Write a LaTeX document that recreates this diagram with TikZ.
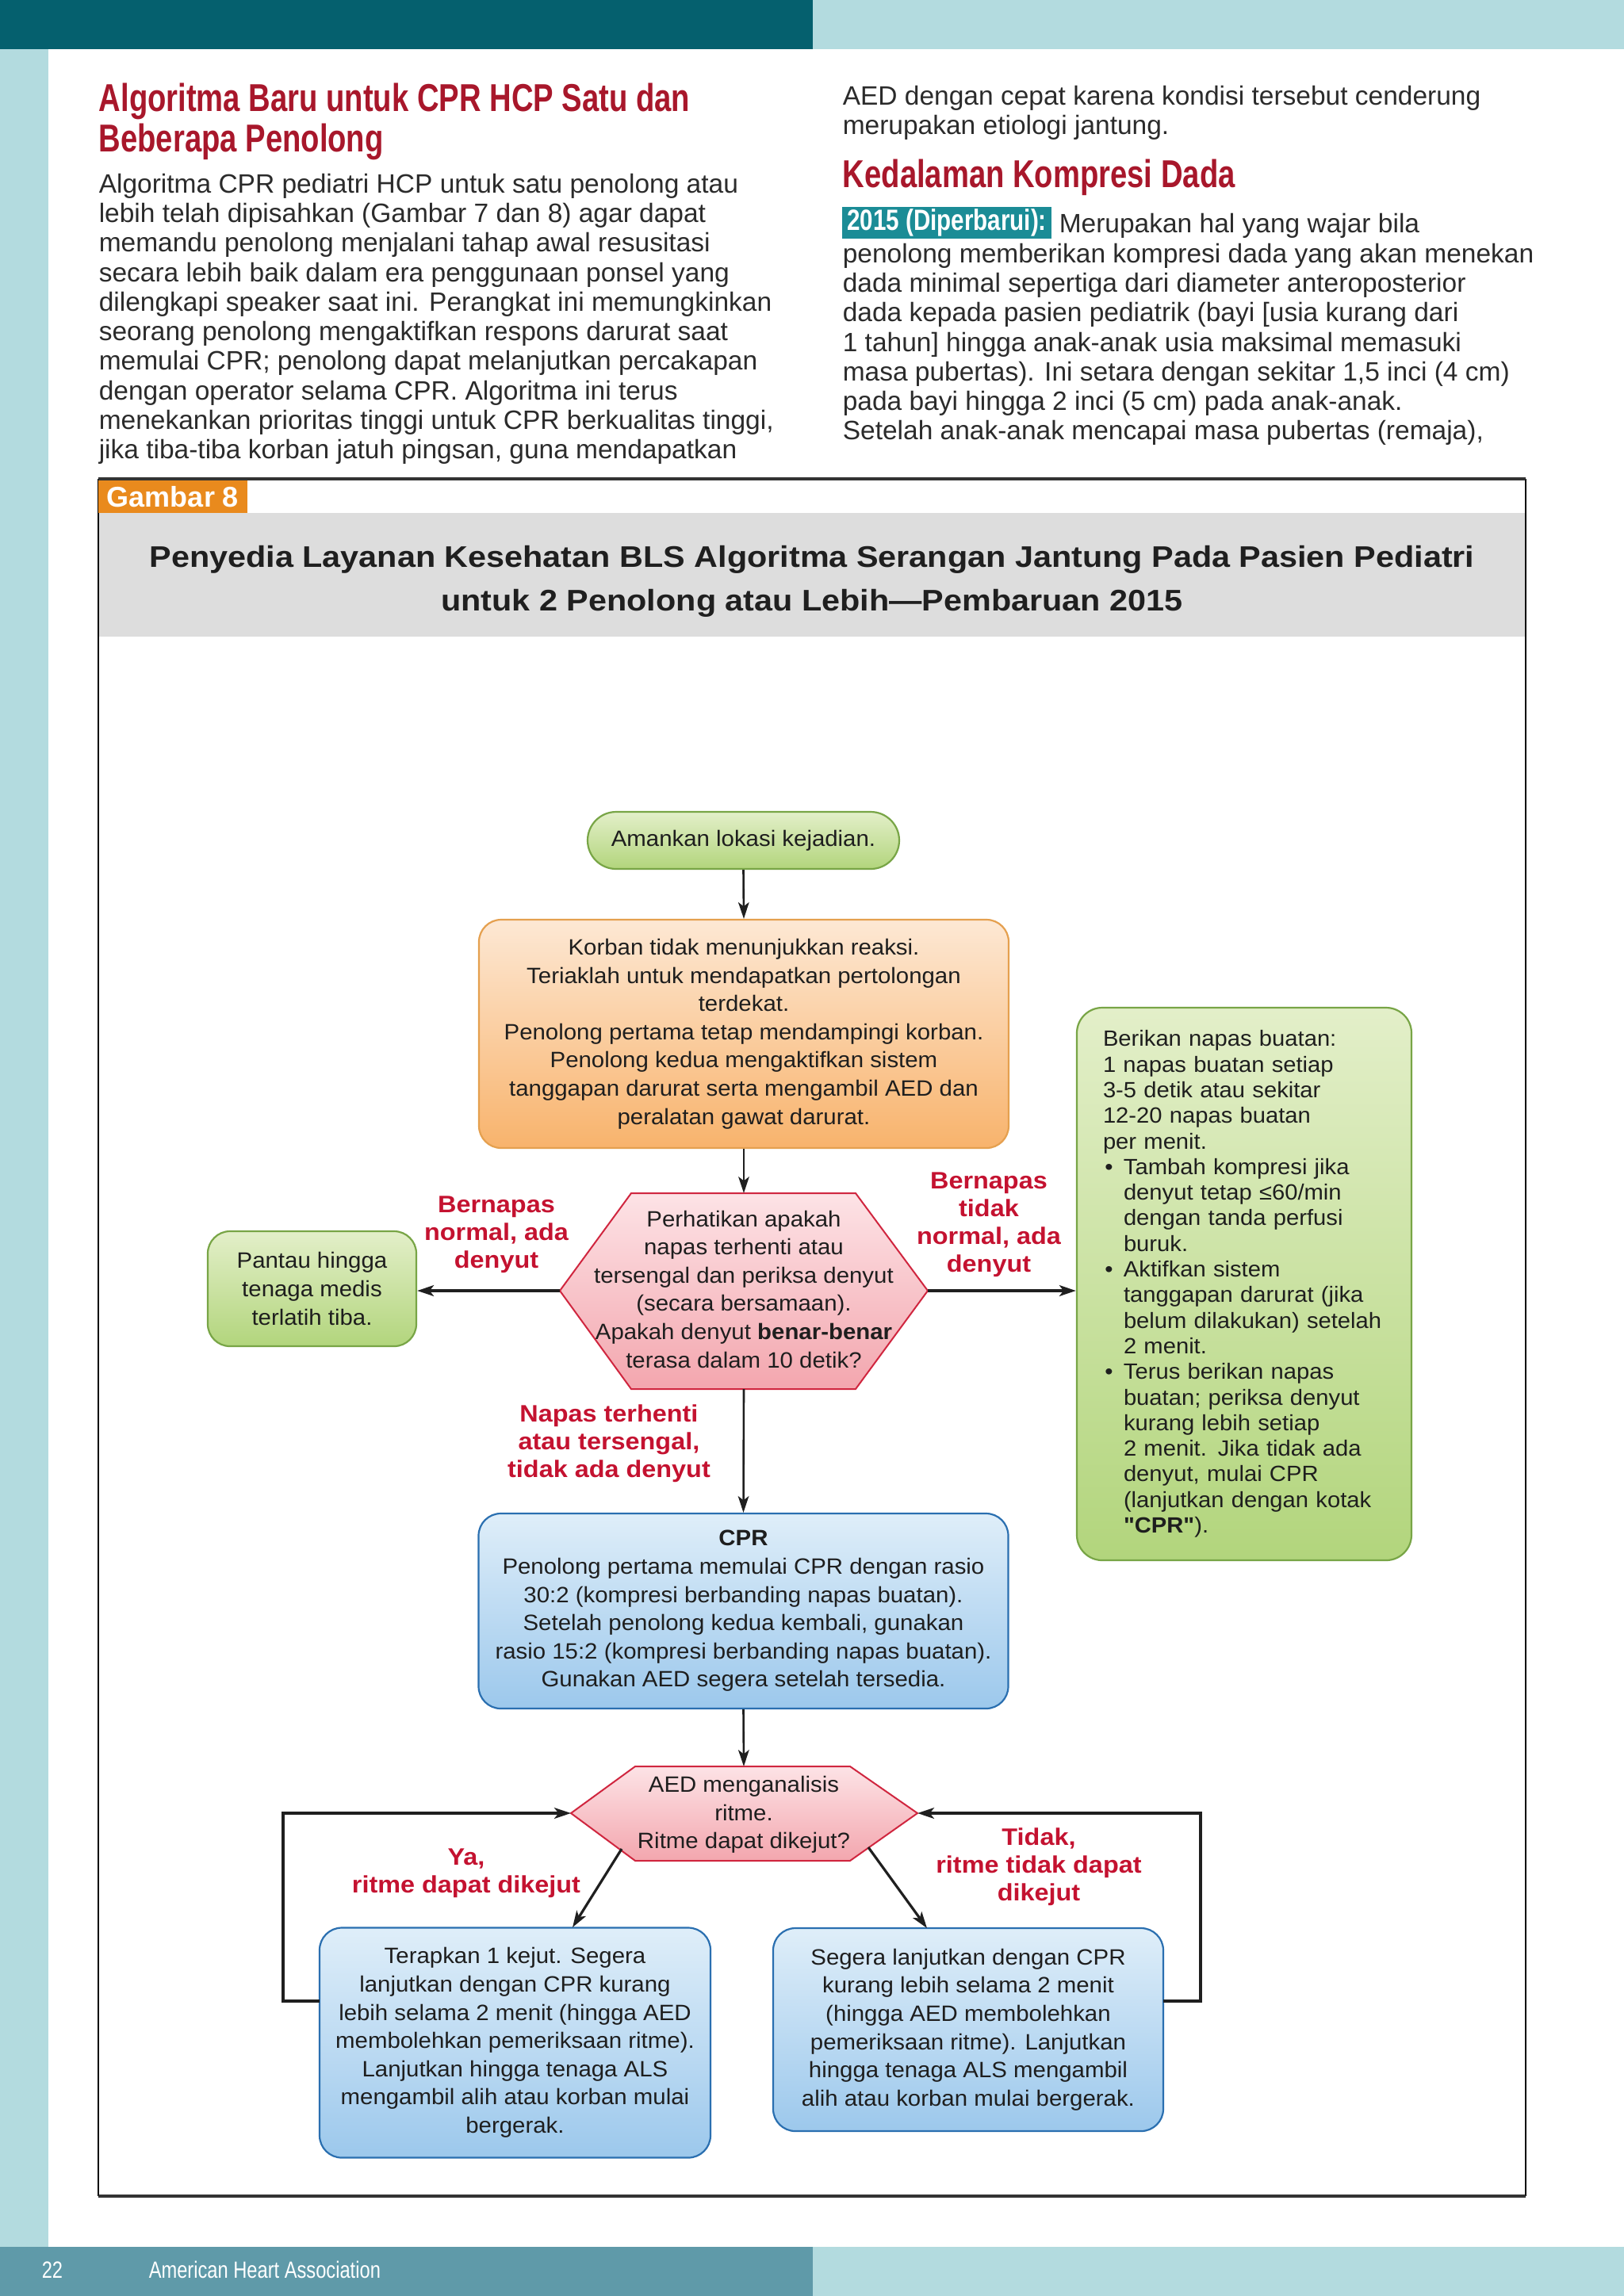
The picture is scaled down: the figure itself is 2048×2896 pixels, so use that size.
\documentclass[tikz,border=0pt]{standalone}
\usepackage{fontspec}
\setmainfont{Liberation Sans}
\newfontfamily\wideF[FakeStretch=1.05]{Liberation Sans}
\newfontfamily\condF[FakeStretch=0.78]{Liberation Sans}
\newfontfamily\badgeF[FakeStretch=0.8]{Liberation Sans}
\newfontfamily\bodyF[FakeStretch=1.0]{Liberation Sans}
\newfontfamily\titleF[FakeStretch=1.1]{Liberation Sans}
\newfontfamily\footF[FakeStretch=0.8]{Liberation Sans}
\newfontfamily\tabF[FakeStretch=1.0]{Liberation Sans}
\newfontfamily\labF[FakeStretch=1.08]{Liberation Sans}
\newcommand\pxf[2]{\fontsize{\dimexpr #1pt/4\relax}{\dimexpr #2pt/4\relax}\selectfont}
\newcommand\bul{\makebox[6.5pt][l]{\hspace{0.6pt}\textbullet}}
\newcommand\ind{\hspace*{6.5pt}}
\usetikzlibrary{arrows.meta}
\definecolor{tealDark}{HTML}{05606E}
\definecolor{tealLight}{HTML}{B3DBDF}
\definecolor{footDark}{HTML}{5F9AA9}
\definecolor{headRed}{HTML}{A8172B}
\definecolor{labRed}{HTML}{C41230}
\definecolor{bodyTxt}{HTML}{2B2B2B}
\definecolor{boxTxt}{HTML}{1E1E1E}
\definecolor{tabOrange}{HTML}{E98A1D}
\definecolor{badgeTeal}{HTML}{1B8C96}
\definecolor{bandGray}{HTML}{DDDDDD}
\definecolor{grnT}{HTML}{E3EFC9}
\definecolor{grnB}{HTML}{B2D57C}
\definecolor{grnD}{HTML}{78A546}
\definecolor{orgT}{HTML}{FDE8D4}
\definecolor{orgB}{HTML}{F8B36C}
\definecolor{orgD}{HTML}{E5A04F}
\definecolor{bluT}{HTML}{DFEEF9}
\definecolor{bluB}{HTML}{9CC8EC}
\definecolor{bluD}{HTML}{2A6FB0}
\definecolor{pnkT}{HTML}{FDE3E6}
\definecolor{pnkB}{HTML}{F3A6AE}
\definecolor{pnkD}{HTML}{D0263F}
\begin{document}
\begin{tikzpicture}[x=0.25pt,y=-0.25pt,
  art/.style={anchor=base west, inner sep=0pt, font=\bodyF\pxf{33.5}{37}, text=bodyTxt},
  arthead/.style={anchor=base west, inner sep=0pt, font=\condF\bfseries\pxf{49}{46}, text=headRed},
  box/.style={draw, line width=0.55pt, rounded corners=7pt, align=center, inner sep=0pt,
              font=\wideF\pxf{28}{35.6}, text=boxTxt},
  greenbox/.style={box, draw=grnD, top color=grnT, bottom color=grnB},
  orangebox/.style={box, draw=orgD, top color=orgT, bottom color=orgB},
  bluebox/.style={box, draw=bluD, top color=bluT, bottom color=bluB},
  hexshape/.style={draw=pnkD, line width=0.5pt, top color=pnkT, bottom color=pnkB},
  hextext/.style={align=center, inner sep=0pt, font=\wideF\pxf{28}{35.6}, text=boxTxt},
  lab/.style={align=center, inner sep=0pt, font=\labF\bfseries\pxf{30}{35}, text=labRed},
  arr/.style={-{Stealth[length=5.2pt,width=3.4pt,inset=1.3pt]}, line width=0.65pt, draw=black!88},
  arrT/.style={arr, line width=1pt},
  arrM/.style={arr, line width=0.8pt}]
\useasboundingbox (0,0) rectangle (2048,2896);
\fill[white] (0,0) rectangle (2048,2896);
% page bands
\fill[tealDark] (0,0) rectangle (1025,62);
\fill[tealLight] (1025,0) rectangle (2048,62);
\fill[tealLight] (0,62) rectangle (61,2834);
\fill[footDark] (0,2834) rectangle (1025,2896);
\fill[tealLight] (1025,2834) rectangle (2048,2896);
\node[anchor=base west, inner sep=0pt, font=\footF\pxf{29.6}{30}, text=white] (pgnum) at (52,2873) {22};
\node[anchor=base west, inner sep=0pt, font=\footF\pxf{29.6}{30}, text=white] (aha) at (187,2873) {American Heart Association};

% article text, left column
\node[arthead] (h1a) at (124,140) {Algoritma Baru untuk CPR HCP Satu dan};
\node[arthead] (h1b) at (124,191) {Beberapa Penolong};
\node[art] (l1) at (124,243) {Algoritma CPR pediatri HCP untuk satu penolong atau};
\node[art] (l2) at (124,280) {lebih telah dipisahkan (Gambar 7 dan 8) agar dapat};
\node[art] (l3) at (124,317) {memandu penolong menjalani tahap awal resusitasi};
\node[art] (l4) at (124,355) {secara lebih baik dalam era penggunaan ponsel yang};
\node[art] (l5) at (124,392) {dilengkapi speaker saat ini. Perangkat ini memungkinkan};
\node[art] (l6) at (124,429) {seorang penolong mengaktifkan respons darurat saat};
\node[art] (l7) at (124,466) {memulai CPR; penolong dapat melanjutkan percakapan};
\node[art] (l8) at (124,504) {dengan operator selama CPR. Algoritma ini terus};
\node[art] (l9) at (124,541) {menekankan prioritas tinggi untuk CPR berkualitas tinggi,};
\node[art] (l10) at (124,578) {jika tiba-tiba korban jatuh pingsan, guna mendapatkan};

% right column
\node[art] (r1) at (1062,132) {AED dengan cepat karena kondisi tersebut cenderung};
\node[art] (r2) at (1062,169) {merupakan etiologi jantung.};
\node[arthead] (h2) at (1062,236) {Kedalaman Kompresi Dada};
\node[fill=badgeTeal, text=white, inner sep=0pt, minimum width=264*0.25pt, minimum height=40*0.25pt,
      font=\badgeF\bfseries\pxf{37}{36}] (badge) at (1194,281) {2015 (Diperbarui):};
\node[art] (r3) at (1335,293) {Merupakan hal yang wajar bila};
\node[art] (r4) at (1062,331) {penolong memberikan kompresi dada yang akan menekan};
\node[art] (r5) at (1062,368) {dada minimal sepertiga dari diameter anteroposterior};
\node[art] (r6) at (1062,405) {dada kepada pasien pediatrik (bayi [usia kurang dari};
\node[art] (r7) at (1062,443) {1 tahun] hingga anak-anak usia maksimal memasuki};
\node[art] (r8) at (1062,480) {masa pubertas). Ini setara dengan sekitar 1,5 inci (4 cm)};
\node[art] (r9) at (1062,517) {pada bayi hingga 2 inci (5 cm) pada anak-anak.};
\node[art] (r10) at (1062,554) {Setelah anak-anak mencapai masa pubertas (remaja),};

% figure frame
\fill[bandGray] (124,647) rectangle (1924,803);
\draw[line width=0.5pt, black] (124,604) -- (124,2770) (1924,604) -- (1924,2770);
\draw[line width=1.1pt, black!80] (124,604) -- (1924,604);
\draw[line width=1.1pt, black!80] (124,2770) -- (1924,2770);
\node[fill=tabOrange, text=white, inner sep=0pt, minimum width=188*0.25pt, minimum height=41*0.25pt,
      font=\tabF\bfseries\pxf{36}{36}] (tab) at (218,626.5) {Gambar 8};
\node[align=center, inner sep=0pt, font=\titleF\bfseries\pxf{37.6}{55}, text=black!88] (title) at (1024,733)
  {Penyedia Layanan Kesehatan BLS Algoritma Serangan Jantung Pada Pasien Pediatri\\
   untuk 2 Penolong atau Lebih—Pembaruan 2015};

% flowchart
\node[greenbox, rounded corners=9pt, minimum width=393*0.25pt, minimum height=72*0.25pt] (safe) at (937.5,1060)
  {Amankan lokasi kejadian.};
\node[orangebox, minimum width=668*0.25pt, minimum height=288*0.25pt] (victim) at (938,1304)
  {Korban tidak menunjukkan reaksi.\\
   Teriaklah untuk mendapatkan pertolongan\\
   terdekat.\\
   Penolong pertama tetap mendampingi korban.\\
   Penolong kedua mengaktifkan sistem\\
   tanggapan darurat serta mengambil AED dan\\
   peralatan gawat darurat.};

\path[hexshape] (706,1628) -- (796,1505) -- (1079,1505) -- (1170,1628) -- (1079,1752) -- (796,1752) -- cycle;
\coordinate (checkN) at (938,1505);
\coordinate (checkS) at (938,1752);
\coordinate (checkW) at (706,1628);
\coordinate (checkE) at (1170,1628);
\node[hextext] (check) at (938,1626)
  {Perhatikan apakah\\
   napas terhenti atau\\
   tersengal dan periksa denyut\\
   (secara bersamaan).\\
   Apakah denyut \textbf{benar-benar}\\
   terasa dalam 10 detik?};

\node[greenbox, minimum width=263*0.25pt, minimum height=145*0.25pt] (monitor) at (393.5,1625.5)
  {Pantau hingga\\ tenaga medis\\ terlatih tiba.};

\node[greenbox, rounded corners=8pt, align=left, text width=89pt, minimum width=422*0.25pt, minimum height=697*0.25pt,
      font=\wideF\pxf{27.8}{32.3}] (breath) at (1569,1619.5)
  {Berikan napas buatan:\\
   1 napas buatan setiap\\
   3-5 detik atau sekitar\\
   12-20 napas buatan\\
   per menit.\\
   \bul Tambah kompresi jika\\
   \ind denyut tetap ≤60/min\\
   \ind dengan tanda perfusi\\
   \ind buruk.\\
   \bul Aktifkan sistem\\
   \ind tanggapan darurat (jika\\
   \ind belum dilakukan) setelah\\
   \ind 2 menit.\\
   \bul Terus berikan napas\\
   \ind buatan; periksa denyut\\
   \ind kurang lebih setiap\\
   \ind 2 menit. Jika tidak ada\\
   \ind denyut, mulai CPR\\
   \ind (lanjutkan dengan kotak\\
   \ind \textbf{"CPR"}).};

\node[bluebox, minimum width=668*0.25pt, minimum height=246*0.25pt] (cpr) at (937.5,2032)
  {\textbf{CPR}\\
   Penolong pertama memulai CPR dengan rasio\\
   30:2 (kompresi berbanding napas buatan).\\
   Setelah penolong kedua kembali, gunakan\\
   rasio 15:2 (kompresi berbanding napas buatan).\\
   Gunakan AED segera setelah tersedia.};

\path[hexshape] (720,2287) -- (801,2228) -- (1072,2228) -- (1157,2287) -- (1072,2347) -- (801,2347) -- cycle;
\coordinate (aedN) at (938,2228);
\coordinate (aedW) at (720,2287);
\coordinate (aedE) at (1157,2287);
\coordinate (aedSW) at (784,2332);
\coordinate (aedSE) at (1095,2330);
\node[hextext] (aed) at (938,2289)
  {AED menganalisis\\ ritme.\\ Ritme dapat dikejut?};

\node[bluebox, minimum width=493*0.25pt, minimum height=290*0.25pt] (shock) at (649.5,2576.5)
  {Terapkan 1 kejut. Segera\\
   lanjutkan dengan CPR kurang\\
   lebih selama 2 menit (hingga AED\\
   membolehkan pemeriksaan ritme).\\
   Lanjutkan hingga tenaga ALS\\
   mengambil alih atau korban mulai\\
   bergerak.};
\node[bluebox, minimum width=492*0.25pt, minimum height=256*0.25pt] (noshock) at (1221,2560)
  {Segera lanjutkan dengan CPR\\
   kurang lebih selama 2 menit\\
   (hingga AED membolehkan\\
   pemeriksaan ritme). Lanjutkan\\
   hingga tenaga ALS mengambil\\
   alih atau korban mulai bergerak.};
\coordinate (shockIn) at (722,2431);
\coordinate (noshockIn) at (1169,2432);
\coordinate (shockOut) at (403,2524);
\coordinate (noshockOut) at (1467,2524);

% labels
\node[lab] (labL) at (626,1557) {Bernapas\\ normal, ada\\ denyut};
\node[lab] (labR) at (1247,1545) {Bernapas\\ tidak\\ normal, ada\\ denyut};
\node[lab] (labD) at (768,1821) {Napas terhenti\\ atau tersengal,\\ tidak ada denyut};
\node[lab] (labY) at (588,2363) {Ya,\\ ritme dapat dikejut};
\node[lab] (labN) at (1310,2355) {Tidak,\\ ritme tidak dapat\\ dikejut};

% connectors
\draw[arr] (safe.south) -- (victim.north);
\draw[arr] (victim.south) -- (checkN);
\draw[arrT] (checkW) -- (monitor.east |- checkW);
\draw[arrT] (checkE) -- (breath.west |- checkE);
\draw[arr] (checkS) -- (cpr.north);
\draw[arr] (cpr.south) -- (aedN);
\draw[arrM] (aedSW) -- (shockIn);
\draw[arrM] (aedSE) -- (noshockIn);
\draw[arrT] (shockOut) -- (357,2524) -- (357,2287) -- (aedW);
\draw[arrT] (noshockOut) -- (1514,2524) -- (1514,2287) -- (aedE);
\end{tikzpicture}
\end{document}
